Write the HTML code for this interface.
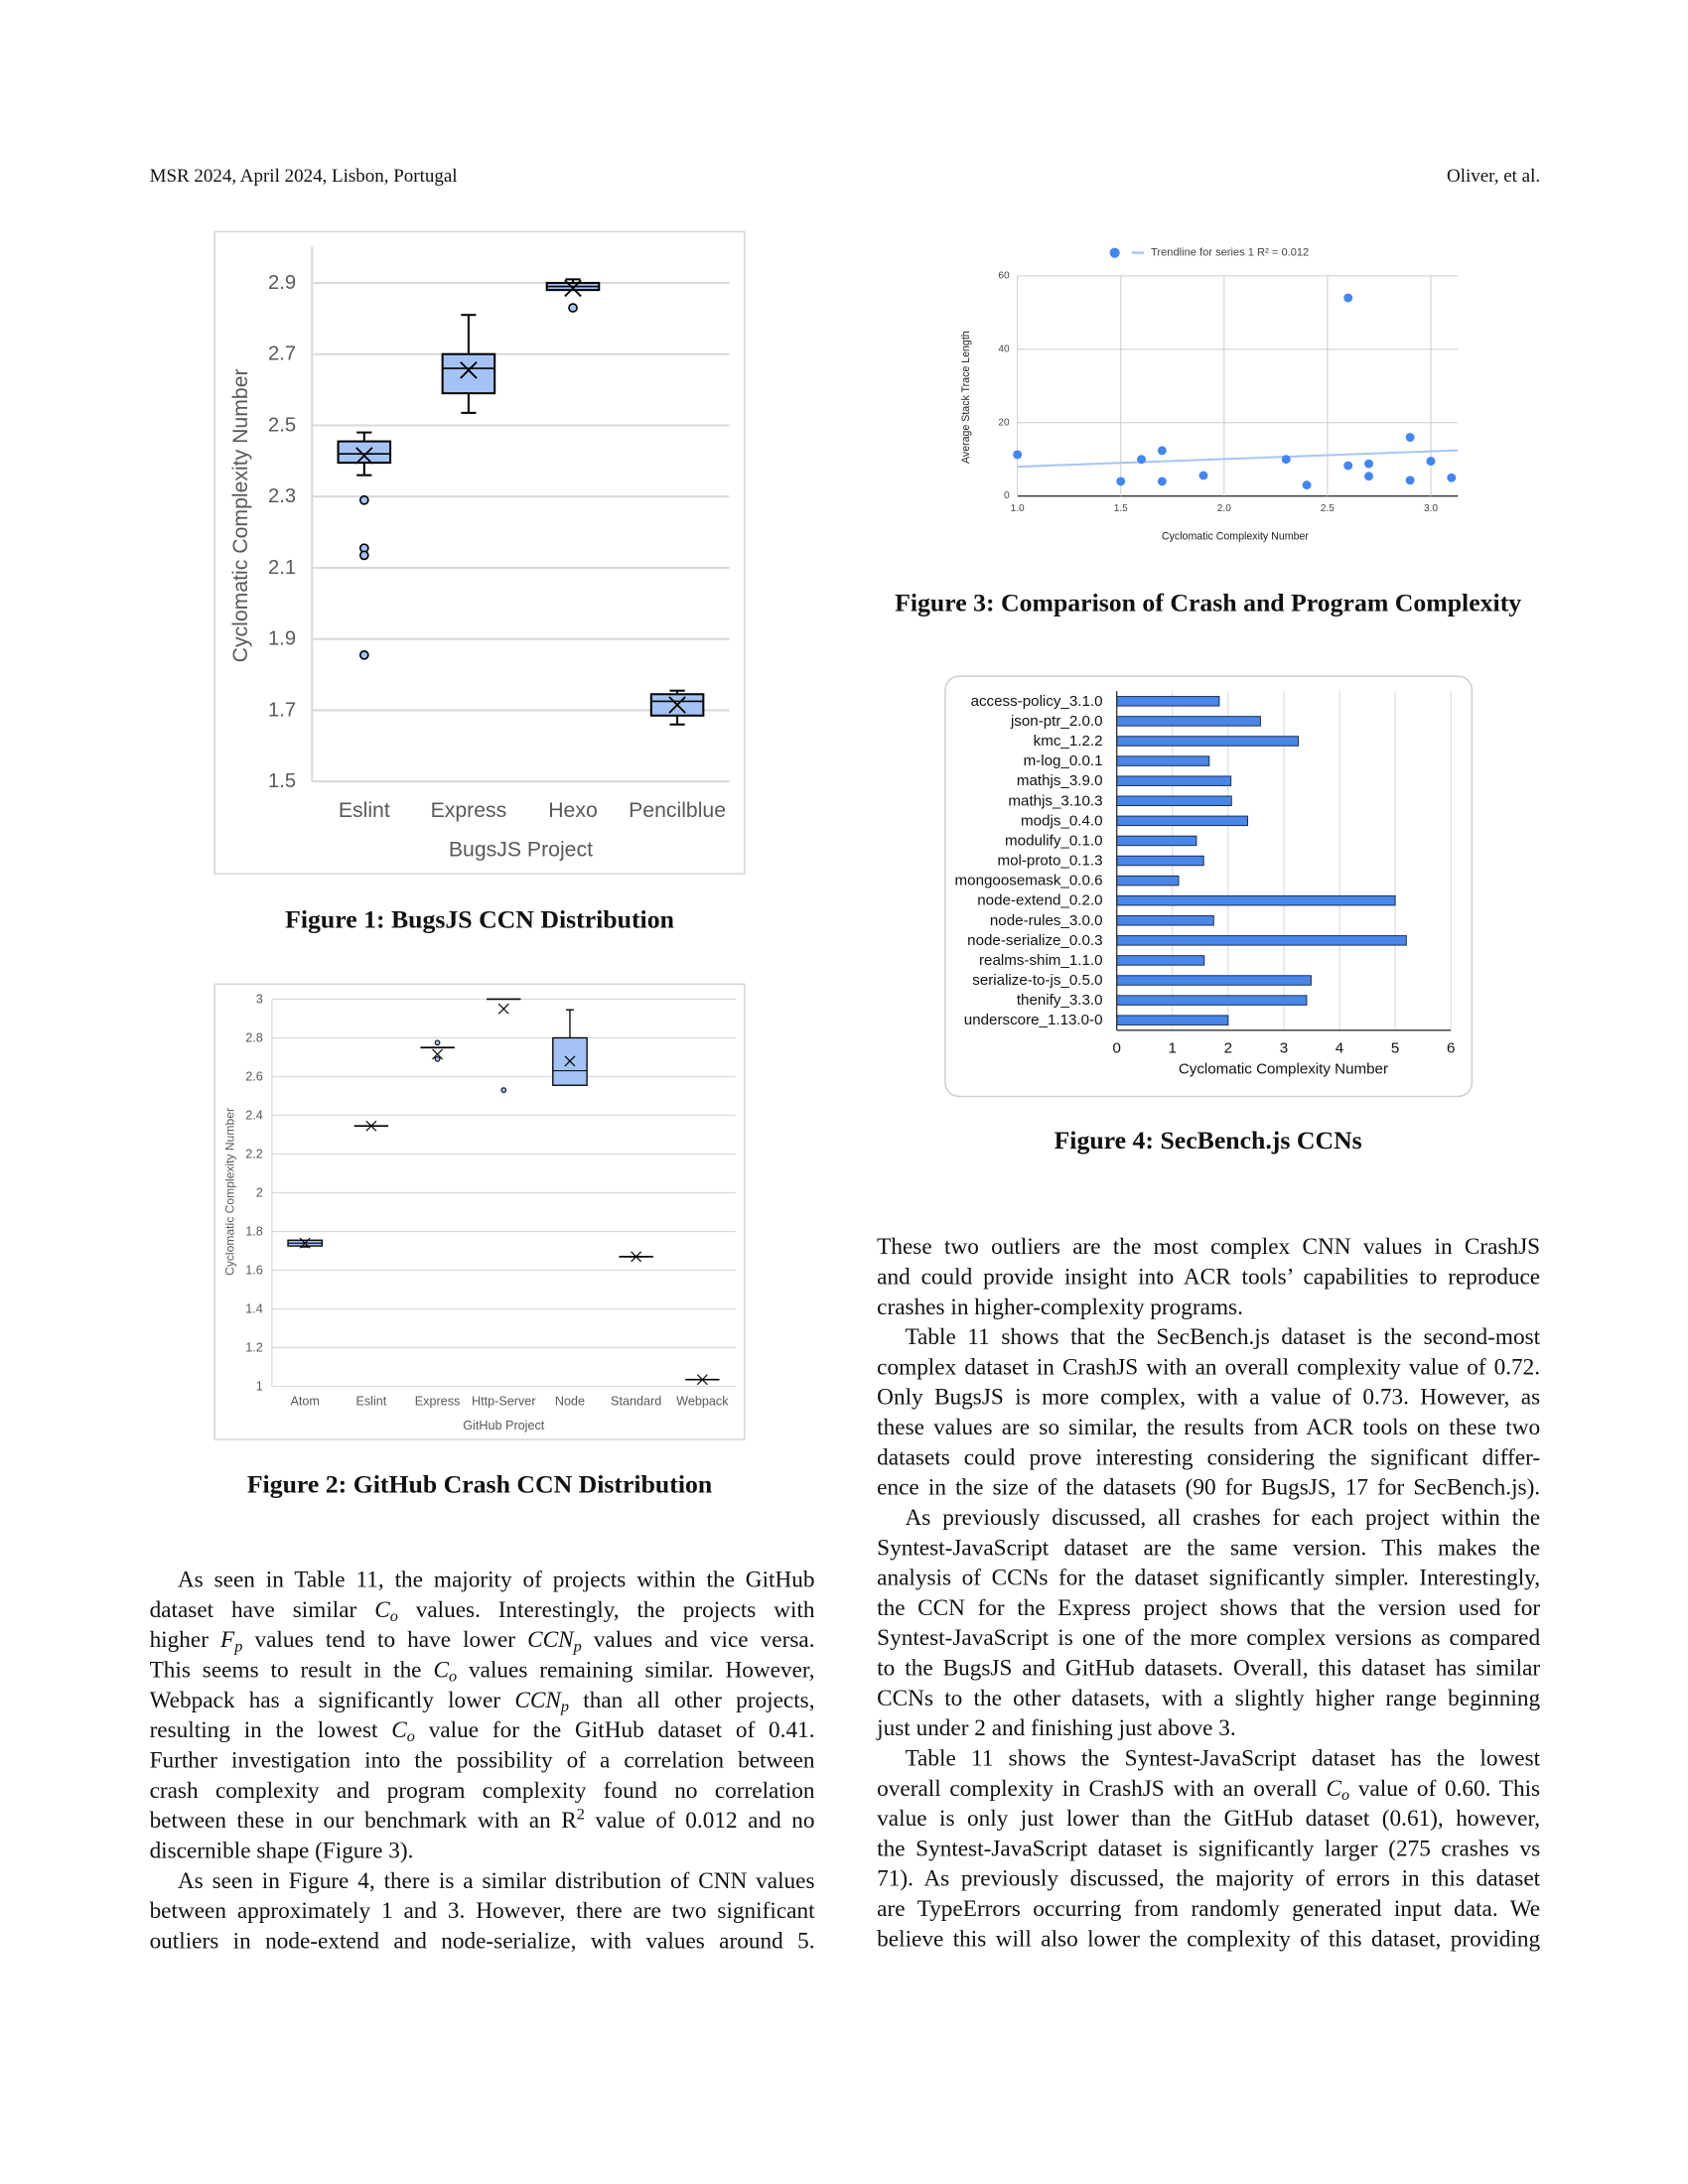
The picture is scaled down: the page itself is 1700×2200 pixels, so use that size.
<!DOCTYPE html>
<html><head><meta charset="utf-8"><style>
body{margin:0;background:#fff;overflow:hidden}
#wrap{width:1700px;height:2200px;overflow:hidden;position:relative}
#page{position:relative;width:1700px;height:2200px;overflow:hidden;background:#fff;font-family:"Liberation Serif",serif;color:#111;transform:scale(1.0105);transform-origin:0 0}
.hd{position:absolute;top:165px;font-size:18.8px}
.cap{position:absolute;font-weight:bold;font-size:25.5px;white-space:nowrap;transform:translateX(-50%)}
.ln{position:absolute;height:30px;line-height:30px;font-size:23px;white-space:nowrap;text-align:justify;text-align-last:justify}
.ln.e{text-align-last:left}
.ln.i{text-indent:28px}
.L{left:149px;width:663px}.R{left:874px;width:661px}
sub{font-size:70%;vertical-align:-4px;line-height:0}
sup{font-size:70%;line-height:0}
svg{position:absolute;left:0;top:0}
</style></head><body>
<div id="wrap">
<div id="page">
<div class="hd" style="left:149px">MSR 2024, April 2024, Lisbon, Portugal</div>
<div class="hd" style="right:165px">Oliver, et al.</div>

<svg id="charts" width="1700" height="2200"></svg>

<div class="cap" style="left:478px;top:902px">Figure 1: BugsJS CCN Distribution</div>
<div class="cap" style="left:478px;top:1465px">Figure 2: GitHub Crash CCN Distribution</div>
<div class="cap" style="left:1204px;top:586px">Figure 3: Comparison of Crash and Program Complexity</div>
<div class="cap" style="left:1204px;top:1122px">Figure 4: SecBench.js CCNs</div>

<div>
<div class="ln L i" style="top:1560px">As seen in Table 11, the majority of projects within the GitHub</div>
<div class="ln L" style="top:1590px">dataset have similar <i>C<sub>o</sub></i> values. Interestingly, the projects with</div>
<div class="ln L" style="top:1620px">higher <i>F<sub>p</sub></i> values tend to have lower <i>CCN<sub>p</sub></i> values and vice versa.</div>
<div class="ln L" style="top:1650px">This seems to result in the <i>C<sub>o</sub></i> values remaining similar. However,</div>
<div class="ln L" style="top:1680px">Webpack has a significantly lower <i>CCN<sub>p</sub></i> than all other projects,</div>
<div class="ln L" style="top:1710px">resulting in the lowest <i>C<sub>o</sub></i> value for the GitHub dataset of 0.41.</div>
<div class="ln L" style="top:1740px">Further investigation into the possibility of a correlation between</div>
<div class="ln L" style="top:1770px">crash complexity and program complexity found no correlation</div>
<div class="ln L" style="top:1800px">between these in our benchmark with an R<sup>2</sup> value of 0.012 and no</div>
<div class="ln L e" style="top:1830px">discernible shape (Figure 3).</div>
<div class="ln L i" style="top:1860px">As seen in Figure 4, there is a similar distribution of CNN values</div>
<div class="ln L" style="top:1890px">between approximately 1 and 3. However, there are two significant</div>
<div class="ln L" style="top:1920px">outliers in node-extend and node-serialize, with values around 5.</div>
</div>

<div>
<div class="ln R" style="top:1228px">These two outliers are the most complex CNN values in CrashJS</div>
<div class="ln R" style="top:1258px">and could provide insight into ACR tools’ capabilities to reproduce</div>
<div class="ln R e" style="top:1288px">crashes in higher-complexity programs.</div>
<div class="ln R i" style="top:1318px">Table 11 shows that the SecBench.js dataset is the second-most</div>
<div class="ln R" style="top:1348px">complex dataset in CrashJS with an overall complexity value of 0.72.</div>
<div class="ln R" style="top:1378px">Only BugsJS is more complex, with a value of 0.73. However, as</div>
<div class="ln R" style="top:1408px">these values are so similar, the results from ACR tools on these two</div>
<div class="ln R" style="top:1438px">datasets could prove interesting considering the significant differ-</div>
<div class="ln R" style="top:1468px">ence in the size of the datasets (90 for BugsJS, 17 for SecBench.js).</div>
<div class="ln R i" style="top:1498px">As previously discussed, all crashes for each project within the</div>
<div class="ln R" style="top:1528px">Syntest-JavaScript dataset are the same version. This makes the</div>
<div class="ln R" style="top:1558px">analysis of CCNs for the dataset significantly simpler. Interestingly,</div>
<div class="ln R" style="top:1588px">the CCN for the Express project shows that the version used for</div>
<div class="ln R" style="top:1618px">Syntest-JavaScript is one of the more complex versions as compared</div>
<div class="ln R" style="top:1648px">to the BugsJS and GitHub datasets. Overall, this dataset has similar</div>
<div class="ln R" style="top:1678px">CCNs to the other datasets, with a slightly higher range beginning</div>
<div class="ln R e" style="top:1708px">just under 2 and finishing just above 3.</div>
<div class="ln R i" style="top:1738px">Table 11 shows the Syntest-JavaScript dataset has the lowest</div>
<div class="ln R" style="top:1768px">overall complexity in CrashJS with an overall <i>C<sub>o</sub></i> value of 0.60. This</div>
<div class="ln R" style="top:1798px">value is only just lower than the GitHub dataset (0.61), however,</div>
<div class="ln R" style="top:1828px">the Syntest-JavaScript dataset is significantly larger (275 crashes vs</div>
<div class="ln R" style="top:1858px">71). As previously discussed, the majority of errors in this dataset</div>
<div class="ln R" style="top:1888px">are TypeErrors occurring from randomly generated input data. We</div>
<div class="ln R" style="top:1918px">believe this will also lower the complexity of this dataset, providing</div>
</div>
</div>
</div>

<script>
// ---- Figure 1 data (BugsJS) ----
const f1Cats = ["Eslint","Express","Hexo","Pencilblue"];
const f1Min = [2.36,2.535,2.88,1.66];
const f1Q1 = [2.395,2.59,2.88,1.685];
const f1Med = [2.42,2.66,2.89,1.725];
const f1Q3 = [2.455,2.70,2.90,1.745];
const f1Max = [2.48,2.81,2.91,1.755];
const f1Mean = [2.415,2.655,2.885,1.715];
const f1Out = [[2.29,2.155,2.135,1.855],[],[2.83],[]];
const f1Ticks = [1.5,1.7,1.9,2.1,2.3,2.5,2.7,2.9];
// ---- Figure 2 data (GitHub) ----
const f2Cats = ["Atom","Eslint","Express","Http-Server","Node","Standard","Webpack"];
const f2Min = [1.72,2.345,2.75,3.0,2.555,1.67,1.035];
const f2Q1 = [1.725,2.345,2.75,3.0,2.555,1.67,1.035];
const f2Med = [1.74,2.345,2.75,3.0,2.63,1.67,1.035];
const f2Q3 = [1.755,2.345,2.75,3.0,2.80,1.67,1.035];
const f2Max = [1.755,2.345,2.75,3.0,2.945,1.67,1.035];
const f2Mean = [1.74,2.345,2.715,2.95,2.68,1.67,1.035];
const f2Out = [[],[],[2.775,2.70,2.69],[2.53],[],[],[]];
const f2Ticks = [1,1.2,1.4,1.6,1.8,2,2.2,2.4,2.6,2.8,3];
const f2TickLabels = ["1","1.2","1.4","1.6","1.8","2","2.2","2.4","2.6","2.8","3"];
// ---- Figure 3 data (scatter) ----
const f3X = [1.0,1.5,1.6,1.7,1.7,1.9,2.3,2.4,2.6,2.6,2.7,2.7,2.9,2.9,3.0,3.1];
const f3Y = [11.3,4,10,12.4,4,5.6,10,3,54,8.3,8.8,5.4,16,4.3,9.5,5];
const f3Trend = [[1.0,8.0],[3.1,12.4]];
const f3XTicks = [1.0,1.5,2.0,2.5,3.0];
const f3YTicks = [0,20,40,60];
// ---- Figure 4 data (SecBench bars) ----
const f4Cats = ["access-policy_3.1.0","json-ptr_2.0.0","kmc_1.2.2","m-log_0.0.1","mathjs_3.9.0","mathjs_3.10.3","modjs_0.4.0","modulify_0.1.0","mol-proto_0.1.3","mongoosemask_0.0.6","node-extend_0.2.0","node-rules_3.0.0","node-serialize_0.0.3","realms-shim_1.1.0","serialize-to-js_0.5.0","thenify_3.3.0","underscore_1.13.0-0"];
const f4Vals = [1.84,2.58,3.26,1.66,2.05,2.06,2.35,1.43,1.56,1.11,5.0,1.74,5.2,1.57,3.49,3.41,2.0];
const f4Ticks = [0,1,2,3,4,5,6];

const NS="http://www.w3.org/2000/svg";
const svg=document.getElementById('charts');
function mk(tag,attrs,parent,text){const e=document.createElementNS(NS,tag);for(const k in attrs)e.setAttribute(k,attrs[k]);if(text!==undefined)e.textContent=text;(parent||svg).appendChild(e);return e;}
function grp(name){const g=document.createElementNS(NS,'g');


svg.appendChild(g);return g;}

function boxplot(o){
  const g=grp(o.name);
  const frame=mk('rect',{x:o.fx,y:o.fy,width:o.fw,height:o.fh,fill:'#fff',stroke:'#d6d6d6','stroke-width':1.5},g);
  
  
  const y=v=>o.y0+(v-o.v0)*(o.y1-o.y0)/(o.v1-o.v0);
  const n=o.cats.length, step=(o.xr-o.xl)/n;
  const x=i=>o.xl+step*(i+0.5);
  o.ticks.forEach((t,i)=>{
    const gl=mk('line',{x1:o.xl,x2:o.xr,y1:y(t),y2:y(t),stroke:'#d9d9d9','stroke-width':o.gw},g);
    
    
    const tl=mk('text',{x:o.xl-o.tpad,y:y(t),'text-anchor':'end','dominant-baseline':'central','font-family':'Liberation Sans, sans-serif','font-size':o.fs,fill:'#595959'},g,o.tlab?o.tlab[i]:t.toFixed(1));
    
    
  });
  const ax=mk('line',{x1:o.xl,x2:o.xl,y1:o.ytop,y2:y(o.v0),stroke:'#d9d9d9','stroke-width':o.gw},g);
  
  
  const sw=o.sw, hw=o.bw/2, cw=o.cw/2;
  o.cats.forEach((c,i)=>{
    const cx=x(i);
    const bg=document.createElementNS(NS,'g');
    
    
    g.appendChild(bg);
    mk('line',{x1:cx,x2:cx,y1:y(o.max[i]),y2:y(o.q3[i]),stroke:'#000','stroke-width':sw},bg);
    mk('line',{x1:cx,x2:cx,y1:y(o.min[i]),y2:y(o.q1[i]),stroke:'#000','stroke-width':sw},bg);
    if(o.max[i]>o.q3[i]) mk('line',{x1:cx-cw,x2:cx+cw,y1:y(o.max[i]),y2:y(o.max[i]),stroke:'#000','stroke-width':sw},bg);
    if(o.min[i]<o.q1[i]) mk('line',{x1:cx-cw,x2:cx+cw,y1:y(o.min[i]),y2:y(o.min[i]),stroke:'#000','stroke-width':sw},bg);
    const h=y(o.q1[i])-y(o.q3[i]);
    if(h>0.5) mk('rect',{x:cx-hw,y:y(o.q3[i]),width:o.bw,height:h,fill:'#a4c2f4',stroke:'#000','stroke-width':sw},bg);
    mk('line',{x1:cx-hw,x2:cx+hw,y1:y(o.med[i]),y2:y(o.med[i]),stroke:'#000','stroke-width':h>0.5?sw*0.8:sw*1.3},bg);
    const m=y(o.mean[i]), s=o.xs;
    mk('path',{d:`M${cx-s},${m-s}L${cx+s},${m+s}M${cx-s},${m+s}L${cx+s},${m-s}`,stroke:'#000','stroke-width':sw*0.9,fill:'none'},bg);
    o.out[i].forEach(v=>{
      const oc=mk('circle',{cx:cx,cy:y(v),r:o.or,fill:'#a4c2f4',stroke:'#000','stroke-width':sw*0.8},bg);
      
      
    });
    const cl=mk('text',{x:cx,y:o.cy,'text-anchor':'middle','dominant-baseline':'central','font-family':'Liberation Sans, sans-serif','font-size':o.cfs,fill:'#595959'},g,c);
    
    
  });
  const xt=mk('text',{x:(o.xl+o.xr)/2,y:o.xty,'text-anchor':'middle','dominant-baseline':'central','font-family':'Liberation Sans, sans-serif','font-size':o.cfs,fill:'#595959'},g,o.xtitle);
  
  
  const yt=mk('text',{x:0,y:0,transform:`translate(${o.ytx},${o.yty}) rotate(-90)`,'text-anchor':'middle','dominant-baseline':'central','font-family':'Liberation Sans, sans-serif','font-size':o.yfs,fill:'#595959'},g,'Cyclomatic Complexity Number');
  
  
}

boxplot({name:'figure-1-bugsjs-boxplot',fx:214,fy:231,fw:528,fh:640,xl:311,xr:727,ytop:246,v0:1.5,v1:2.9,y0:779,y1:282,
  cats:f1Cats,min:f1Min,q1:f1Q1,med:f1Med,q3:f1Q3,max:f1Max,mean:f1Mean,out:f1Out,ticks:f1Ticks,
  gw:2,tpad:16,fs:20,cfs:21,yfs:21,sw:2,bw:52,cw:15,xs:8,or:4,cy:808,xty:847,xtitle:'BugsJS Project',ytx:240,yty:514});
boxplot({name:'figure-2-github-boxplot',fx:214,fy:981,fw:528,fh:454,xl:271,xr:733,ytop:996,v0:1,v1:3,y0:1382,y1:996,
  cats:f2Cats,min:f2Min,q1:f2Q1,med:f2Med,q3:f2Q3,max:f2Max,mean:f2Mean,out:f2Out,ticks:f2Ticks,tlab:f2TickLabels,
  gw:1.2,tpad:9,fs:12.5,cfs:12.5,yfs:12,sw:1.3,bw:34,cw:8,xs:5,or:2.3,cy:1397,xty:1421,xtitle:'GitHub Project',ytx:229,yty:1188});

// ---- Figure 3 scatter ----
(function(){
  const g=grp('figure-3-scatter-chart');
  const xl=1014, xr=1453, X=v=>1014+(v-1.0)*(1426-1014)/2.0, Y=v=>494.5+(v*(275-494.5)/60);
  f3YTicks.forEach(t=>{
    const l=mk('line',{x1:xl,x2:xr,y1:Y(t),y2:Y(t),stroke:t===0?'#333':'#ccc','stroke-width':t===0?1.3:1},g);
    
    
    const tl=mk('text',{x:1006,y:Y(t),'text-anchor':'end','dominant-baseline':'central','font-family':'Liberation Sans, sans-serif','font-size':10,fill:'#444'},g,String(t));
    
    
  });
  f3XTicks.forEach(t=>{
    const l=mk('line',{x1:X(t),x2:X(t),y1:Y(60),y2:Y(0),stroke:'#ccc','stroke-width':1},g);
    
    
    const tl=mk('text',{x:X(t),y:507,'text-anchor':'middle','dominant-baseline':'central','font-family':'Liberation Sans, sans-serif','font-size':10,fill:'#444'},g,t.toFixed(1));
    
    
  });
  const tr=mk('line',{x1:X(f3Trend[0][0]),y1:Y(f3Trend[0][1]),x2:xr,y2:Y(f3Trend[0][1]+(f3Trend[1][1]-f3Trend[0][1])*((xr-X(f3Trend[0][0]))/(X(f3Trend[1][0])-X(f3Trend[0][0])))),stroke:'#a9c4f5','stroke-width':2},g);
  
  
  f3X.forEach((v,i)=>{
    const c=mk('circle',{cx:X(v),cy:Y(f3Y[i]),r:4.4,fill:'#4285f4'},g);
    
    
  });
  const ld=mk('circle',{cx:1111,cy:252,r:5,fill:'#4285f4'},g);
  
  
  const ll=mk('line',{x1:1128,x2:1140,y1:252,y2:252,stroke:'#a9c4f5','stroke-width':2.5},g);
  
  
  const lt=mk('text',{x:1147,y:252,'dominant-baseline':'central','font-family':'Liberation Sans, sans-serif','font-size':11,fill:'#444'},g,'Trendline for series 1 R² = 0.012');
  
  
  const xt=mk('text',{x:1231,y:535,'text-anchor':'middle','dominant-baseline':'central','font-family':'Liberation Sans, sans-serif','font-size':10.5,fill:'#222'},g,'Cyclomatic Complexity Number');
  
  
  const yt=mk('text',{x:0,y:0,transform:'translate(963,396) rotate(-90)','text-anchor':'middle','dominant-baseline':'central','font-family':'Liberation Sans, sans-serif','font-size':10.5,fill:'#222'},g,'Average Stack Trace Length');
  
  
})();

// ---- Figure 4 bars ----
(function(){
  const g=grp('figure-4-secbench-bar-chart');
  const fr=mk('rect',{x:942,y:674,width:525,height:419,rx:14,fill:'#fff',stroke:'#cfcfcf','stroke-width':1.5},g);
  
  
  const X=v=>1113+v*(1446-1113)/6, top=689, bot=1027;
  const Y=i=>699+i*(1017-699)/(f4Cats.length-1);
  f4Ticks.forEach(t=>{
    if(t>0){const l=mk('line',{x1:X(t),x2:X(t),y1:top,y2:bot,stroke:'#ddd','stroke-width':1.2},g);
    
    }
    const tl=mk('text',{x:X(t),y:1045,'text-anchor':'middle','dominant-baseline':'central','font-family':'Liberation Sans, sans-serif','font-size':15,fill:'#111'},g,String(t));
    
    
  });
  f4Cats.forEach((c,i)=>{
    const b=mk('rect',{x:X(0),y:Y(i)-4.7,width:X(f4Vals[i])-X(0),height:9.4,fill:'#4a86e8',stroke:'#1d2f55','stroke-width':1},g);
    
    
    const t=mk('text',{x:1099,y:Y(i),'text-anchor':'end','dominant-baseline':'central','font-family':'Liberation Sans, sans-serif','font-size':15,fill:'#111'},g,c);
    
    
  });
  const a1=mk('line',{x1:X(0),x2:X(0),y1:top,y2:bot,stroke:'#333','stroke-width':1.3},g);
  
  
  const a2=mk('line',{x1:X(0),x2:X(6),y1:bot,y2:bot,stroke:'#333','stroke-width':1.3},g);
  
  
  const xt=mk('text',{x:1279,y:1066,'text-anchor':'middle','dominant-baseline':'central','font-family':'Liberation Sans, sans-serif','font-size':15,fill:'#111'},g,'Cyclomatic Complexity Number');
  
  
})();
</script>
</body></html>
